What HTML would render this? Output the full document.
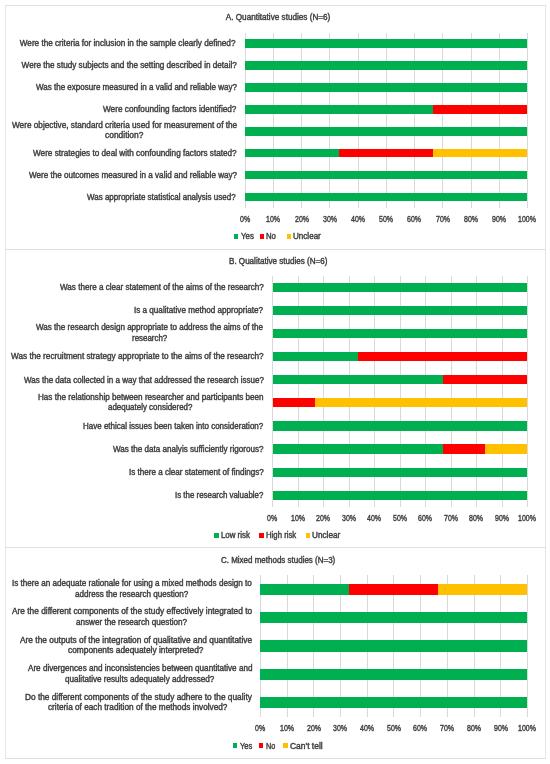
<!DOCTYPE html>
<html><head><meta charset="utf-8"><title>Risk of bias assessment</title>
<style>
html,body{margin:0;padding:0;background:#fff;}
body{width:550px;height:764px;position:relative;overflow:hidden;font-family:"Liberation Sans", Arial, sans-serif;font-size:8.17px;color:#404040;-webkit-text-stroke:0.4px #404040;}
.t{position:absolute;white-space:nowrap;line-height:12px;transform-origin:0 0;}
.g{position:absolute;width:1px;background:#d9d9d9;}
.b{position:absolute;}
.h{position:absolute;height:1px;background:#e0e0e0;}
.v{position:absolute;width:1px;background:#e6e6e6;}
.sq{position:absolute;}
</style></head><body>
<div class="v" style="left:5px;top:5px;height:754px"></div>
<div class="v" style="left:545px;top:5px;height:754px"></div>
<div class="h" style="left:5px;top:5px;width:541px"></div>
<div class="h" style="left:5px;top:249px;width:541px"></div>
<div class="h" style="left:5px;top:547px;width:541px"></div>
<div class="h" style="left:5px;top:758px;width:541px"></div>
<div class="t" style="left:225.8px;top:12.3px">A. Quantitative studies (N=6)</div>
<div class="g" style="left:244.8px;top:32.5px;height:175.44px"></div>
<div class="g" style="left:273.02px;top:32.5px;height:175.44px"></div>
<div class="g" style="left:301.24px;top:32.5px;height:175.44px"></div>
<div class="g" style="left:329.46px;top:32.5px;height:175.44px"></div>
<div class="g" style="left:357.68px;top:32.5px;height:175.44px"></div>
<div class="g" style="left:385.9px;top:32.5px;height:175.44px"></div>
<div class="g" style="left:414.12px;top:32.5px;height:175.44px"></div>
<div class="g" style="left:442.34px;top:32.5px;height:175.44px"></div>
<div class="g" style="left:470.56px;top:32.5px;height:175.44px"></div>
<div class="g" style="left:498.78px;top:32.5px;height:175.44px"></div>
<div class="g" style="left:527px;top:32.5px;height:175.44px"></div>
<div class="b" style="left:245.3px;top:39.08px;width:282.2px;height:8.77px;background:#00b050"></div>
<div class="t" style="left:19.8px;top:38.27px">Were the criteria for inclusion in the sample clearly defined?</div>
<div class="b" style="left:245.3px;top:61.01px;width:282.2px;height:8.77px;background:#00b050"></div>
<div class="t" style="left:21.6px;top:60.19px">Were the study subjects and the setting described in detail?</div>
<div class="b" style="left:245.3px;top:82.94px;width:282.2px;height:8.77px;background:#00b050"></div>
<div class="t" style="left:35.6px;top:82.12px;transform:scaleX(0.9838)">Was the exposure measured in a valid and reliable way?</div>
<div class="b" style="left:245.3px;top:104.87px;width:188.13px;height:8.77px;background:#00b050"></div>
<div class="b" style="left:433.43px;top:104.87px;width:94.07px;height:8.77px;background:#ff0000"></div>
<div class="t" style="left:103.1px;top:104.05px;transform:scaleX(1.0091)">Were confounding factors identified?</div>
<div class="b" style="left:245.3px;top:126.8px;width:282.2px;height:8.77px;background:#00b050"></div>
<div class="t" style="left:11.5px;top:119.88px;transform:scaleX(1.0081)">Were objective, standard criteria used for measurement of the</div>
<div class="t" style="left:104.8px;top:130.49px;transform:scaleX(1.0324)">condition?</div>
<div class="b" style="left:245.3px;top:148.73px;width:94.07px;height:8.77px;background:#00b050"></div>
<div class="b" style="left:339.37px;top:148.73px;width:94.07px;height:8.77px;background:#ff0000"></div>
<div class="b" style="left:433.43px;top:148.73px;width:94.07px;height:8.77px;background:#ffc000"></div>
<div class="t" style="left:32.6px;top:147.92px;transform:scaleX(1.0034)">Were strategies to deal with confounding factors stated?</div>
<div class="b" style="left:245.3px;top:170.66px;width:282.2px;height:8.77px;background:#00b050"></div>
<div class="t" style="left:28.5px;top:169.84px;transform:scaleX(0.9943)">Were the outcomes measured in a valid and reliable way?</div>
<div class="b" style="left:245.3px;top:192.59px;width:282.2px;height:8.77px;background:#00b050"></div>
<div class="t" style="left:87.3px;top:191.78px;transform:scaleX(0.9803)">Was appropriate statistical analysis used?</div>
<div class="t" style="left:239.84px;top:213.9px;transform:scaleX(0.8600)">0%</div>
<div class="t" style="left:266.34px;top:213.9px;transform:scaleX(0.8600)">10%</div>
<div class="t" style="left:294.56px;top:213.9px;transform:scaleX(0.8600)">20%</div>
<div class="t" style="left:322.78px;top:213.9px;transform:scaleX(0.8600)">30%</div>
<div class="t" style="left:351px;top:213.9px;transform:scaleX(0.8600)">40%</div>
<div class="t" style="left:379.22px;top:213.9px;transform:scaleX(0.8600)">50%</div>
<div class="t" style="left:407.44px;top:213.9px;transform:scaleX(0.8600)">60%</div>
<div class="t" style="left:435.66px;top:213.9px;transform:scaleX(0.8600)">70%</div>
<div class="t" style="left:463.88px;top:213.9px;transform:scaleX(0.8600)">80%</div>
<div class="t" style="left:492.1px;top:213.9px;transform:scaleX(0.8600)">90%</div>
<div class="t" style="left:518.17px;top:213.9px;transform:scaleX(0.8600)">100%</div>
<div class="sq" style="left:234px;top:234.1px;width:4.2px;height:4.5px;background:#00b050"></div>
<div class="t" style="left:240.5px;top:230.5px;transform:scaleX(0.9692)">Yes</div>
<div class="sq" style="left:259.6px;top:234.1px;width:4.4px;height:4.5px;background:#ff0000"></div>
<div class="t" style="left:266.4px;top:230.5px;transform:scaleX(0.9545)">No</div>
<div class="sq" style="left:286.7px;top:234.1px;width:4.2px;height:4.5px;background:#ffc000"></div>
<div class="t" style="left:292.7px;top:230.5px;transform:scaleX(0.9893)">Unclear</div>
<div class="t" style="left:229.1px;top:255.5px;transform:scaleX(0.9889)">B. Qualitative studies (N=6)</div>
<div class="g" style="left:272.1px;top:275.8px;height:231px"></div>
<div class="g" style="left:297.59px;top:275.8px;height:231px"></div>
<div class="g" style="left:323.08px;top:275.8px;height:231px"></div>
<div class="g" style="left:348.57px;top:275.8px;height:231px"></div>
<div class="g" style="left:374.06px;top:275.8px;height:231px"></div>
<div class="g" style="left:399.55px;top:275.8px;height:231px"></div>
<div class="g" style="left:425.04px;top:275.8px;height:231px"></div>
<div class="g" style="left:450.53px;top:275.8px;height:231px"></div>
<div class="g" style="left:476.02px;top:275.8px;height:231px"></div>
<div class="g" style="left:501.51px;top:275.8px;height:231px"></div>
<div class="g" style="left:527px;top:275.8px;height:231px"></div>
<div class="b" style="left:272.6px;top:282.73px;width:254.9px;height:9.24px;background:#00b050"></div>
<div class="t" style="left:59.8px;top:282.15px;transform:scaleX(0.9937)">Was there a clear statement of the aims of the research?</div>
<div class="b" style="left:272.6px;top:305.83px;width:254.9px;height:9.24px;background:#00b050"></div>
<div class="t" style="left:134.1px;top:305.25px;transform:scaleX(0.9954)">Is a qualitative method appropriate?</div>
<div class="b" style="left:272.6px;top:328.93px;width:254.9px;height:9.24px;background:#00b050"></div>
<div class="t" style="left:36.1px;top:322.25px;transform:scaleX(0.9887)">Was the research design appropriate to address the aims of the</div>
<div class="t" style="left:132.3px;top:332.85px;transform:scaleX(0.9722)">research?</div>
<div class="b" style="left:272.6px;top:352.03px;width:84.97px;height:9.24px;background:#00b050"></div>
<div class="b" style="left:357.57px;top:352.03px;width:169.93px;height:9.24px;background:#ff0000"></div>
<div class="t" style="left:10.7px;top:351.45px;transform:scaleX(1.0072)">Was the recruitment strategy appropriate to the aims of the research?</div>
<div class="b" style="left:272.6px;top:375.13px;width:169.93px;height:9.24px;background:#00b050"></div>
<div class="b" style="left:442.53px;top:375.13px;width:84.97px;height:9.24px;background:#ff0000"></div>
<div class="t" style="left:23.7px;top:374.55px;transform:scaleX(0.9828)">Was the data collected in a way that addressed the research issue?</div>
<div class="b" style="left:272.6px;top:398.23px;width:42.48px;height:9.24px;background:#ff0000"></div>
<div class="b" style="left:315.08px;top:398.23px;width:212.42px;height:9.24px;background:#ffc000"></div>
<div class="t" style="left:37.7px;top:391.55px;transform:scaleX(0.9947)">Has the relationship between researcher and participants been</div>
<div class="t" style="left:108.2px;top:402.15px;transform:scaleX(0.9747)">adequately considered?</div>
<div class="b" style="left:272.6px;top:421.33px;width:254.9px;height:9.24px;background:#00b050"></div>
<div class="t" style="left:82.9px;top:420.75px;transform:scaleX(0.9815)">Have ethical issues been taken into consideration?</div>
<div class="b" style="left:272.6px;top:444.43px;width:169.93px;height:9.24px;background:#00b050"></div>
<div class="b" style="left:442.53px;top:444.43px;width:42.48px;height:9.24px;background:#ff0000"></div>
<div class="b" style="left:485.02px;top:444.43px;width:42.48px;height:9.24px;background:#ffc000"></div>
<div class="t" style="left:112.9px;top:443.85px;transform:scaleX(0.9908)">Was the data analyis sufficiently rigorous?</div>
<div class="b" style="left:272.6px;top:467.53px;width:254.9px;height:9.24px;background:#00b050"></div>
<div class="t" style="left:128.7px;top:466.95px;transform:scaleX(0.9912)">Is there a clear statement of findings?</div>
<div class="b" style="left:272.6px;top:490.63px;width:254.9px;height:9.24px;background:#00b050"></div>
<div class="t" style="left:175.3px;top:490.05px;transform:scaleX(0.9692)">Is the research valuable?</div>
<div class="t" style="left:267.14px;top:512.8px;transform:scaleX(0.8600)">0%</div>
<div class="t" style="left:290.91px;top:512.8px;transform:scaleX(0.8600)">10%</div>
<div class="t" style="left:316.4px;top:512.8px;transform:scaleX(0.8600)">20%</div>
<div class="t" style="left:341.89px;top:512.8px;transform:scaleX(0.8600)">30%</div>
<div class="t" style="left:367.38px;top:512.8px;transform:scaleX(0.8600)">40%</div>
<div class="t" style="left:392.87px;top:512.8px;transform:scaleX(0.8600)">50%</div>
<div class="t" style="left:418.36px;top:512.8px;transform:scaleX(0.8600)">60%</div>
<div class="t" style="left:443.85px;top:512.8px;transform:scaleX(0.8600)">70%</div>
<div class="t" style="left:469.34px;top:512.8px;transform:scaleX(0.8600)">80%</div>
<div class="t" style="left:494.83px;top:512.8px;transform:scaleX(0.8600)">90%</div>
<div class="t" style="left:518.17px;top:512.8px;transform:scaleX(0.8600)">100%</div>
<div class="sq" style="left:214.1px;top:533px;width:4.6px;height:4.7px;background:#00b050"></div>
<div class="t" style="left:221.2px;top:529.9px;transform:scaleX(0.9633)">Low risk</div>
<div class="sq" style="left:259.2px;top:533px;width:4.5px;height:4.7px;background:#ff0000"></div>
<div class="t" style="left:266px;top:529.9px;transform:scaleX(0.9531)">High risk</div>
<div class="sq" style="left:305.5px;top:533px;width:4.5px;height:4.7px;background:#ffc000"></div>
<div class="t" style="left:312.2px;top:529.9px;transform:scaleX(1.0036)">Unclear</div>
<div class="t" style="left:220.7px;top:554.8px;transform:scaleX(0.9786)">C. Mixed methods studies (N=3)</div>
<div class="g" style="left:259.9px;top:575px;height:142px"></div>
<div class="g" style="left:286.61px;top:575px;height:142px"></div>
<div class="g" style="left:313.32px;top:575px;height:142px"></div>
<div class="g" style="left:340.03px;top:575px;height:142px"></div>
<div class="g" style="left:366.74px;top:575px;height:142px"></div>
<div class="g" style="left:393.45px;top:575px;height:142px"></div>
<div class="g" style="left:420.16px;top:575px;height:142px"></div>
<div class="g" style="left:446.87px;top:575px;height:142px"></div>
<div class="g" style="left:473.58px;top:575px;height:142px"></div>
<div class="g" style="left:500.29px;top:575px;height:142px"></div>
<div class="g" style="left:527px;top:575px;height:142px"></div>
<div class="b" style="left:260.4px;top:583.52px;width:89.03px;height:11.36px;background:#00b050"></div>
<div class="b" style="left:349.43px;top:583.52px;width:89.03px;height:11.36px;background:#ff0000"></div>
<div class="b" style="left:438.47px;top:583.52px;width:89.03px;height:11.36px;background:#ffc000"></div>
<div class="t" style="left:11.5px;top:577.9px;transform:scaleX(0.9921)">Is there an adequate rationale for using a mixed methods design to</div>
<div class="t" style="left:75px;top:588.5px;transform:scaleX(0.9921)">address the research question?</div>
<div class="b" style="left:260.4px;top:611.92px;width:267.1px;height:11.36px;background:#00b050"></div>
<div class="t" style="left:11.5px;top:606.3px;transform:scaleX(1.0217)">Are the different components of the study effectively integrated to</div>
<div class="t" style="left:75.8px;top:616.9px;transform:scaleX(0.9955)">answer the research question?</div>
<div class="b" style="left:260.4px;top:640.32px;width:267.1px;height:11.36px;background:#00b050"></div>
<div class="t" style="left:19.8px;top:634.7px;transform:scaleX(1.0257)">Are the outputs of the integration of qualitative and quantitative</div>
<div class="t" style="left:68.2px;top:645.3px;transform:scaleX(1.0227)">components adequately interpreted?</div>
<div class="b" style="left:260.4px;top:668.72px;width:267.1px;height:11.36px;background:#00b050"></div>
<div class="t" style="left:27.5px;top:663.1px;transform:scaleX(0.9960)">Are divergences and inconsistencies between quantitative and</div>
<div class="t" style="left:64.9px;top:673.7px;transform:scaleX(0.9953)">qualitative results adequately addressed?</div>
<div class="b" style="left:260.4px;top:697.12px;width:267.1px;height:11.36px;background:#00b050"></div>
<div class="t" style="left:24.7px;top:691.5px;transform:scaleX(1.0175)">Do the different components of the study adhere to the quality</div>
<div class="t" style="left:48.3px;top:702.1px;transform:scaleX(1.0096)">criteria of each tradition of the methods involved?</div>
<div class="t" style="left:254.94px;top:723.1px;transform:scaleX(0.8600)">0%</div>
<div class="t" style="left:279.93px;top:723.1px;transform:scaleX(0.8600)">10%</div>
<div class="t" style="left:306.64px;top:723.1px;transform:scaleX(0.8600)">20%</div>
<div class="t" style="left:333.35px;top:723.1px;transform:scaleX(0.8600)">30%</div>
<div class="t" style="left:360.06px;top:723.1px;transform:scaleX(0.8600)">40%</div>
<div class="t" style="left:386.77px;top:723.1px;transform:scaleX(0.8600)">50%</div>
<div class="t" style="left:413.48px;top:723.1px;transform:scaleX(0.8600)">60%</div>
<div class="t" style="left:440.19px;top:723.1px;transform:scaleX(0.8600)">70%</div>
<div class="t" style="left:466.9px;top:723.1px;transform:scaleX(0.8600)">80%</div>
<div class="t" style="left:493.61px;top:723.1px;transform:scaleX(0.8600)">90%</div>
<div class="t" style="left:518.17px;top:723.1px;transform:scaleX(0.8600)">100%</div>
<div class="sq" style="left:232.5px;top:743.4px;width:4.6px;height:4.5px;background:#00b050"></div>
<div class="t" style="left:240px;top:740.5px;transform:scaleX(0.9308)">Yes</div>
<div class="sq" style="left:258.6px;top:743.4px;width:4.7px;height:4.5px;background:#ff0000"></div>
<div class="t" style="left:266px;top:740.5px;transform:scaleX(0.8818)">No</div>
<div class="sq" style="left:283.3px;top:743.4px;width:4.3px;height:4.5px;background:#ffc000"></div>
<div class="t" style="left:289.8px;top:740.5px;transform:scaleX(1.0387)">Can&#39;t tell</div>
</body></html>
